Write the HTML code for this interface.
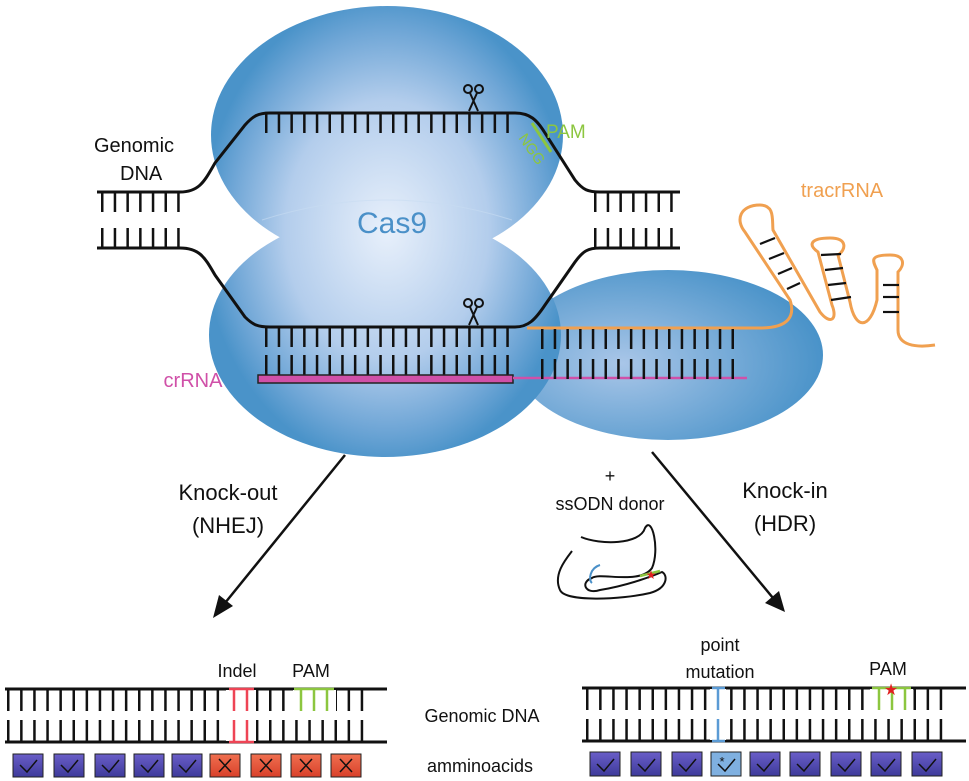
<!DOCTYPE html>
<html><head><meta charset="utf-8"><style>body{margin:0;background:#fff}svg{display:block}text{font-family:"Liberation Sans",sans-serif}</style></head>
<body>
<svg width="969" height="781" viewBox="0 0 969 781" xmlns="http://www.w3.org/2000/svg">
<defs>
<radialGradient id="g1" gradientUnits="userSpaceOnUse" cx="387" cy="230" r="1" gradientTransform="translate(387 230) scale(185 235) translate(-387 -230)"><stop offset="0" stop-color="#e8f0fb"/><stop offset="0.55" stop-color="#b3cdec"/><stop offset="0.85" stop-color="#6fa6d6"/><stop offset="1" stop-color="#4a93c9"/></radialGradient>
<radialGradient id="g3" cx="35%" cy="55%" r="65%"><stop offset="0" stop-color="#a9c6e8"/><stop offset="1" stop-color="#4a93c9"/></radialGradient>
<linearGradient id="bx" x1="0" y1="0" x2="0" y2="1"><stop offset="0" stop-color="#6a5ec8"/><stop offset="1" stop-color="#3d3a9a"/></linearGradient>
<linearGradient id="rx" x1="0" y1="0" x2="0" y2="1"><stop offset="0" stop-color="#f07050"/><stop offset="1" stop-color="#d8402a"/></linearGradient>
</defs>
<!-- Cas9 blobs -->
<ellipse cx="668" cy="355" rx="155" ry="85" fill="url(#g3)"/>
<g fill="url(#g1)">
<ellipse cx="387" cy="135" rx="176" ry="129"/>
<ellipse cx="385" cy="335" rx="176" ry="122"/>
</g>
<path d="M262 220 Q387 180 512 220" fill="none" stroke="#c8dcf2" stroke-width="1" opacity="0.6"/>
<text x="392" y="233" font-size="30" fill="#4a90c8" text-anchor="middle">Cas9</text>

<!-- top strand -->
<path d="M97 192 H180 C200 192 205 180 215 163 L245 125 C253 116 258 113 270 113 H515 C530 113 537 120 545 133 L575 180 C583 190 588 192 600 192 H680" fill="none" stroke="#111" stroke-width="3"/>
<path d="M532 123 L551 152" stroke="#8cc63f" stroke-width="3"/>
<line x1="101" y1="202" x2="186" y2="202" stroke="#111" stroke-width="20" stroke-dasharray="2.5 10.2"/>
<line x1="265" y1="123" x2="510" y2="123" stroke="#111" stroke-width="20" stroke-dasharray="2.5 10.2"/>
<line x1="594" y1="202" x2="675" y2="202" stroke="#111" stroke-width="20" stroke-dasharray="2.5 10.2"/>
<!-- bottom strand -->
<path d="M97 248 H180 C200 248 205 258 215 275 L245 317 C253 325 258 327 270 327 H515 C528 327 535 320 545 305 L575 262 C583 251 588 248 600 248 H680" fill="none" stroke="#111" stroke-width="3"/>
<line x1="101" y1="238" x2="186" y2="238" stroke="#111" stroke-width="20" stroke-dasharray="2.5 10.2"/>
<line x1="594" y1="238" x2="675" y2="238" stroke="#111" stroke-width="20" stroke-dasharray="2.5 10.2"/>
<line x1="265" y1="337" x2="510" y2="337" stroke="#111" stroke-width="20" stroke-dasharray="2.5 10.2"/>
<line x1="265" y1="365" x2="510" y2="365" stroke="#111" stroke-width="20" stroke-dasharray="2.5 10.2"/>
<!-- crRNA -->
<rect x="258" y="375" width="255" height="8" fill="#d050a8" stroke="#222" stroke-width="1.5"/>
<line x1="513" y1="378" x2="747" y2="378" stroke="#d050a8" stroke-width="2.5"/>
<text x="193" y="387" font-size="20" fill="#d050a8" text-anchor="middle">crRNA</text>
<!-- tracrRNA -->
<path d="M527 328 H760 C790 328 795 315 790 300 L745 232 C735 220 740 205 760 205 C775 205 772 220 773 230 L820 312 C830 325 838 320 832 305 L818 252 C808 245 810 238 830 238 C848 238 846 250 838 255 L850 302 C855 330 870 330 877 300 L877 270 C872 260 870 255 890 255 C905 255 905 265 898 272 L898 330 C898 345 915 348 935 345" fill="none" stroke="#f0a050" stroke-width="3"/>
<g stroke="#111" stroke-width="2.2">
<line x1="760" y1="244" x2="775" y2="238"/><line x1="769" y1="259" x2="784" y2="253"/><line x1="778" y1="274" x2="792" y2="268"/><line x1="787" y1="289" x2="800" y2="283"/>
<line x1="821" y1="255" x2="841" y2="254"/><line x1="825" y1="270" x2="843" y2="268"/><line x1="828" y1="285" x2="846" y2="283"/><line x1="831" y1="300" x2="851" y2="297"/>
<line x1="883" y1="285" x2="899" y2="285"/><line x1="883" y1="297" x2="899" y2="297"/><line x1="883" y1="312" x2="899" y2="312"/>
</g>
<line x1="541" y1="339" x2="735" y2="339" stroke="#111" stroke-width="20" stroke-dasharray="2.5 10.2"/>
<line x1="541" y1="369" x2="735" y2="369" stroke="#111" stroke-width="20" stroke-dasharray="2.5 10.2"/>
<text x="842" y="197" font-size="20" fill="#f0a050" text-anchor="middle">tracrRNA</text>
<!-- scissors -->
<g stroke="#111" stroke-width="2" fill="none">
<circle cx="468" cy="89" r="4"/><circle cx="479" cy="89" r="4"/><path d="M470 93 L478 111 M477 93 L469 111"/>
<circle cx="468" cy="303" r="4"/><circle cx="479" cy="303" r="4"/><path d="M470 307 L478 325 M477 307 L469 325"/>
</g>
<text x="94" y="152" font-size="20" fill="#111">Genomic</text>
<text x="120" y="180" font-size="20" fill="#111">DNA</text>
<text x="546" y="138" font-size="19" fill="#8cc63f">PAM</text>
<text x="0" y="0" font-size="15" fill="#8cc63f" transform="translate(518,138) rotate(55)">NGG</text>
<!-- arrows -->
<line x1="345" y1="455" x2="225" y2="603" stroke="#111" stroke-width="2.5"/>
<polygon points="213,618 219,595 233,606" fill="#111"/>
<line x1="652" y1="452" x2="773" y2="598" stroke="#111" stroke-width="2.5"/>
<polygon points="785,612 765,603 779,591" fill="#111"/>
<text x="228" y="500" font-size="22" fill="#111" text-anchor="middle">Knock-out</text>
<text x="228" y="533" font-size="22" fill="#111" text-anchor="middle">(NHEJ)</text>
<text x="785" y="498" font-size="22" fill="#111" text-anchor="middle">Knock-in</text>
<text x="785" y="531" font-size="22" fill="#111" text-anchor="middle">(HDR)</text>
<text x="610" y="482" font-size="18" fill="#111" text-anchor="middle">+</text>
<text x="610" y="510" font-size="18" fill="#111" text-anchor="middle">ssODN donor</text>
<!-- ssODN -->
<path d="M581 537 C600 545 640 545 645 528 C652 515 660 550 652 568 C640 585 600 572 592 578 C580 582 585 595 600 590 C630 585 655 575 662 572 C668 575 668 588 650 593 C620 600 565 602 560 590 C553 575 565 560 572 551" fill="none" stroke="#111" stroke-width="2"/>
<path d="M600 565 C590 568 588 580 592 583" stroke="#4a90c8" stroke-width="2" fill="none"/>
<path d="M640 576 L660 571" stroke="#8cc63f" stroke-width="2.5"/>
<text x="651" y="579" font-size="12" fill="#e02020" text-anchor="middle">★</text>

<!-- bottom left DNA -->
<line x1="5" y1="689" x2="387" y2="689" stroke="#111" stroke-width="3"/>
<line x1="5" y1="742" x2="387" y2="742" stroke="#111" stroke-width="3"/>
<line x1="7" y1="700" x2="372" y2="700" stroke="#111" stroke-width="22" stroke-dasharray="2.5 10.6"/>
<line x1="7" y1="731" x2="372" y2="731" stroke="#111" stroke-width="22" stroke-dasharray="2.5 10.6"/>
<g fill="#fff"><rect x="226" y="690" width="30" height="51"/><rect x="293" y="690" width="43" height="22"/></g>
<g stroke="#ee4455" stroke-width="2.5"><line x1="229" y1="689" x2="254" y2="689"/><line x1="229" y1="742" x2="254" y2="742"/><line x1="234" y1="689" x2="234" y2="711"/><line x1="247" y1="689" x2="247" y2="711"/><line x1="234" y1="720" x2="234" y2="742"/><line x1="247" y1="720" x2="247" y2="742"/></g>
<g stroke="#8cc63f" stroke-width="2.5"><line x1="294" y1="689" x2="334" y2="689"/><line x1="301" y1="689" x2="301" y2="711"/><line x1="314" y1="689" x2="314" y2="711"/><line x1="327" y1="689" x2="327" y2="711"/></g>
<text x="237" y="677" font-size="18" fill="#111" text-anchor="middle">Indel</text>
<text x="311" y="677" font-size="18" fill="#111" text-anchor="middle">PAM</text>
<g stroke="#222" stroke-width="1">
<rect x="13" y="754" width="30" height="23" fill="url(#bx)"/><rect x="54" y="754" width="30" height="23" fill="url(#bx)"/><rect x="95" y="754" width="30" height="23" fill="url(#bx)"/><rect x="134" y="754" width="30" height="23" fill="url(#bx)"/><rect x="172" y="754" width="30" height="23" fill="url(#bx)"/>
<rect x="210" y="754" width="30" height="23" fill="url(#rx)"/><rect x="251" y="754" width="30" height="23" fill="url(#rx)"/><rect x="291" y="754" width="30" height="23" fill="url(#rx)"/><rect x="331" y="754" width="30" height="23" fill="url(#rx)"/>
</g>
<g stroke="#111" stroke-width="1.5" fill="none">
<path d="M20 765 L27 772 L37 760"/><path d="M61 765 L68 772 L78 760"/><path d="M102 765 L109 772 L119 760"/><path d="M141 765 L148 772 L158 760"/><path d="M179 765 L186 772 L196 760"/>
<path d="M219 759 L231 772 M231 759 L219 772"/><path d="M260 759 L272 772 M272 759 L260 772"/><path d="M300 759 L312 772 M312 759 L300 772"/><path d="M340 759 L352 772 M352 759 L340 772"/>
</g>
<text x="482" y="722" font-size="18" fill="#111" text-anchor="middle">Genomic DNA</text>
<text x="480" y="772" font-size="18" fill="#111" text-anchor="middle">amminoacids</text>

<!-- bottom right DNA -->
<line x1="582" y1="688" x2="966" y2="688" stroke="#111" stroke-width="3"/>
<line x1="582" y1="741" x2="966" y2="741" stroke="#111" stroke-width="3"/>
<line x1="586" y1="699" x2="952" y2="699" stroke="#111" stroke-width="22" stroke-dasharray="2.5 10.6"/>
<line x1="586" y1="730" x2="952" y2="730" stroke="#111" stroke-width="22" stroke-dasharray="2.5 10.6"/>
<g fill="#fff"><rect x="710" y="689" width="16" height="51"/><rect x="870" y="689" width="43" height="22"/></g>
<g stroke="#5b9bd5" stroke-width="2.5"><line x1="712" y1="688" x2="725" y2="688"/><line x1="712" y1="741" x2="725" y2="741"/><line x1="718" y1="688" x2="718" y2="710"/><line x1="718" y1="719" x2="718" y2="741"/></g>
<g stroke="#8cc63f" stroke-width="2.5"><line x1="872" y1="688" x2="911" y2="688"/><line x1="879" y1="688" x2="879" y2="710"/><line x1="892" y1="688" x2="892" y2="710"/><line x1="905" y1="688" x2="905" y2="710"/></g>
<text x="891" y="695" font-size="16" fill="#e02020" text-anchor="middle">★</text>
<text x="720" y="651" font-size="18" fill="#111" text-anchor="middle">point</text>
<text x="720" y="678" font-size="18" fill="#111" text-anchor="middle">mutation</text>
<text x="888" y="675" font-size="18" fill="#111" text-anchor="middle">PAM</text>
<g stroke="#222" stroke-width="1">
<rect x="590" y="752" width="30" height="24" fill="url(#bx)"/><rect x="631" y="752" width="30" height="24" fill="url(#bx)"/><rect x="672" y="752" width="30" height="24" fill="url(#bx)"/><rect x="711" y="752" width="30" height="24" fill="#7fb0e0"/><rect x="750" y="752" width="30" height="24" fill="url(#bx)"/><rect x="790" y="752" width="30" height="24" fill="url(#bx)"/><rect x="831" y="752" width="30" height="24" fill="url(#bx)"/><rect x="871" y="752" width="30" height="24" fill="url(#bx)"/><rect x="912" y="752" width="30" height="24" fill="url(#bx)"/>
</g>
<g stroke="#111" stroke-width="1.5" fill="none">
<path d="M597 764 L604 771 L614 759"/><path d="M638 764 L645 771 L655 759"/><path d="M679 764 L686 771 L696 759"/><path d="M718 764 L725 771 L735 759"/><path d="M757 764 L764 771 L774 759"/><path d="M797 764 L804 771 L814 759"/><path d="M838 764 L845 771 L855 759"/><path d="M878 764 L885 771 L895 759"/><path d="M919 764 L926 771 L936 759"/>
</g>
<text x="722" y="766" font-size="13" fill="#111" text-anchor="middle">*</text>
</svg>
</body></html>
